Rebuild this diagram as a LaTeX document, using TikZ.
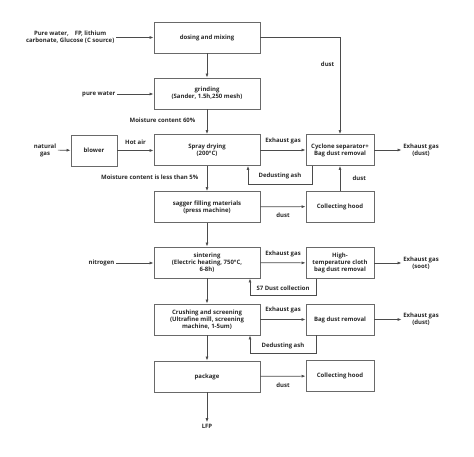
\documentclass[tikz,border=0pt]{standalone}
\usepackage{fontspec}
\setmainfont{Open Sans}
\usetikzlibrary{arrows.meta,positioning}
\definecolor{linegray}{RGB}{75,75,75}
\definecolor{boxgray}{RGB}{105,105,105}
\definecolor{textdark}{RGB}{40,40,40}

\begin{document}
\begin{tikzpicture}[
    x=1pt,y=-1pt,
    every node/.style={font=\fontsize{6}{7.1}\selectfont\bfseries,text=textdark},
    proc/.style={rectangle,draw=boxgray,line width=0.9pt,
      minimum width=106pt,minimum height=31pt,align=center,inner sep=1pt},
    aux/.style={rectangle,draw=boxgray,line width=0.9pt,
      minimum width=68pt,minimum height=31pt,align=center,inner sep=1pt},
    lbl/.style={align=center,inner sep=1.5pt},
    arrow/.style={-{Latex[length=4pt,width=3pt]},draw=linegray,line width=0.7pt}
  ]
    \useasboundingbox (0,0) rectangle (474,457);

    % main process column
    \node[proc] (mix) at (207,37.5) {dosing and mixing};
    \node[proc] (grind) at (207,93.5) {grinding\\(Sander, 1.5h,250 mesh)};
    \node[proc] (spray) at (207,150) {Spray drying\\(200\textdegree C)};
    \node[proc] (sagger) at (207,207) {sagger filling materials\\(press machine)};
    \node[proc] (sinter) at (207,262.5) {sintering\\(Electric heating, 750\textdegree C,\\6-8h)};
    \node[proc] (crush) at (207,319.5) {Crushing and screening\\(Ultrafine mill, screening\\machine, 1-5um)};
    \node[proc] (pack) at (207,376.5) {package};
    \node[lbl] (lfp) at (207,426) {LFP};

    % treatment column
    \node[aux] (cyclone) at (340,150) {Cyclone separator+\\Bag dust removal};
    \node[aux] (hood1) at (340,206.5) {Collecting hood};
    \node[aux] (hightemp) at (340,263) {High-\\temperature cloth\\bag dust removal};
    \node[aux] (bag) at (340,319.5) {Bag dust removal};
    \node[aux] (hood2) at (340,376) {Collecting hood};

    % outputs
    \node[lbl] (exh1) at (421,150) {Exhaust gas\\(dust)};
    \node[lbl] (exh2) at (421,263) {Exhaust gas\\(soot)};
    \node[lbl] (exh3) at (421,319.5) {Exhaust gas\\(dust)};

    % inputs
    \node[lbl,anchor=east] (raw) at (116,37.5) {Pure water,\quad FP, lithium\\carbonate, Glucose (C source)};
    \node[lbl,anchor=east] (water) at (117,94) {pure water};
    \node[lbl] (gas) at (45,150) {natural\\gas};
    \node[rectangle,draw=boxgray,line width=0.9pt,minimum width=46pt,
      minimum height=31pt] (blower) at (94,150.5) {blower};
    \node[lbl,anchor=east] (nitro) at (116,263) {nitrogen};

    \draw[arrow] (raw) -- (mix);
    \draw[arrow] (water) -- (water -| grind.west);
    \draw[arrow] (gas) -- (blower);
    \draw[arrow] (blower) -- node[above=2pt]{Hot air} (blower -| spray.west);
    \draw[arrow] (nitro) -- (nitro -| sinter.west);

    % main flow
    \draw[arrow] (mix) -- (grind);
    \draw[arrow] (grind) -- node[left=8pt,pos=0.45]{Moisture content 60\%} (spray);
    \draw[arrow] (spray) -- node[left=5pt,pos=0.45]{Moisture content is less than 5\%} (sagger);
    \draw[arrow] (sagger) -- (sinter);
    \draw[arrow] (sinter) -- (crush);
    \draw[arrow] (crush) -- (pack);
    \draw[arrow] (pack) -- (lfp);

    % gas and dust
    \draw[arrow] (mix) -| node[left=2pt,pos=0.64]{dust} (cyclone);
    \draw[arrow] (spray) -- node[above=2pt]{Exhaust gas} (cyclone);
    \draw[arrow] ([xshift=-28pt]cyclone.south) -- ++(0,18)
      -| node[pos=0.25,above=1pt]{Dedusting ash} ([xshift=41pt]spray.south);
    \draw[arrow] (hood1) -- node[right=9pt]{dust} (cyclone);
    \draw[arrow] (sagger) -- node[below=3pt]{dust} (hood1);
    \draw[arrow] (cyclone) -- (exh1);

    \draw[arrow] (sinter) -- node[above=2pt]{Exhaust gas} (hightemp);
    \draw[arrow] ([xshift=-24pt]hightemp.south) -- ++(0,16)
      -| node[pos=0.25,above=1pt]{S7 Dust collection} ([xshift=43pt]sinter.south);
    \draw[arrow] (hightemp) -- (exh2);

    \draw[arrow] (crush) -- node[above=3pt]{Exhaust gas} (bag);
    \draw[arrow] ([xshift=-24pt]bag.south) -- ++(0,18)
      -| node[pos=0.25,above=1pt]{Dedusting ash} ([xshift=43pt]crush.south);
    \draw[arrow] (bag) -- (exh3);

    \draw[arrow] (pack) -- node[below=3pt]{dust} (hood2);
  \end{tikzpicture}
\end{document}
